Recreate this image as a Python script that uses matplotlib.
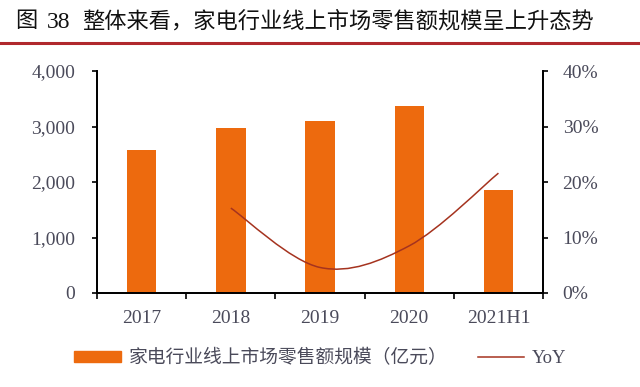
import numpy as np
import matplotlib
matplotlib.use('Agg')
from matplotlib import pyplot as plt
from matplotlib.path import Path
from matplotlib.patches import PathPatch
from matplotlib.lines import Line2D
from matplotlib.ticker import FuncFormatter, FixedLocator

plt.rcParams['font.family'] = ['Liberation Serif', 'Noto Sans CJK SC']

categories = ['2017', '2018', '2019', '2020', '2021H1']
sales      = [2580, 2970, 3100, 3370, 1850]        # 亿元
yoy_cats   = ['2018', '2019', '2020', '2021H1']
yoy        = [15.3, 4.6, 8.5, 21.6]                 # %

bar_color  = '#ED6A0E'
line_color = '#A5331F'
tick_color = '#4a4a5a'

fig = plt.figure(figsize=(6.4, 3.87), dpi=100)
ax = fig.add_axes([0.1516, 0.2429, 0.6969, 0.5736])
ax2 = ax.twinx()

x = np.arange(len(categories))
ax.bar(x, sales, width=0.33, color=bar_color, zorder=2)
ax.set_xlim(-0.5, len(categories) - 0.5)
ax.set_ylim(0, 4000)
ax.set_yticks([0, 1000, 2000, 3000, 4000])
ax.yaxis.set_major_formatter(FuncFormatter(lambda v, p: f'{int(v):,}'))

# smoothed line (excel-like bezier through the points)
xs = np.array([categories.index(c) for c in yoy_cats], dtype=float)
ys = np.array(yoy, dtype=float)
pts = np.column_stack([xs, ys])
verts = [tuple(pts[0])]
codes = [Path.MOVETO]
for i in range(len(pts) - 1):
    p0 = pts[i - 1] if i > 0 else pts[i]
    p1 = pts[i]
    p2 = pts[i + 1]
    p3 = pts[i + 2] if i + 2 < len(pts) else pts[i + 1]
    c1 = p1 + (p2 - p0) / 6.0
    c2 = p2 - (p3 - p1) / 6.0
    verts += [tuple(c1), tuple(c2), tuple(p2)]
    codes += [Path.CURVE4] * 3
ax2.add_patch(PathPatch(Path(verts, codes), facecolor='none', edgecolor=line_color, lw=1.1, zorder=3))
ax2.set_ylim(0, 40)
ax2.set_yticks([0, 10, 20, 30, 40])
ax2.yaxis.set_major_formatter(FuncFormatter(lambda v, p: f'{int(v)}%'))

ax.set_xticks(x)
ax.set_xticklabels(categories)
ax.xaxis.set_minor_locator(FixedLocator(np.arange(-0.5, len(categories), 1.0)))
ax.tick_params(axis='x', which='major', length=0, pad=12, labelsize=14, labelcolor=tick_color)
ax.tick_params(axis='x', which='minor', length=4, width=1.2, direction='out')
ax.tick_params(axis='y', length=3.6, width=1.2, labelsize=14, labelcolor=tick_color, pad=12)
ax2.tick_params(axis='y', length=3.6, width=1.2, labelsize=14, labelcolor=tick_color, pad=10.5)

for a in (ax, ax2):
    a.spines['top'].set_visible(False)
    for s in ('left', 'right', 'bottom'):
        a.spines[s].set_linewidth(1.3)
        a.spines[s].set_color('black')

# title and red rule
ty = 0.943
fig.text(15 / 640, ty, '图', fontsize=16, va='center', ha='left', color='#111111')
fig.text(47 / 640, ty, '38', fontsize=17, va='center', ha='left', color='#111111')
fig.text(82 / 640, ty, '整体来看，家电行业线上市场零售额规模呈上升态势',
         fontsize=16, va='center', ha='left', color='#111111')
fig.add_artist(Line2D([0, 1], [0.888, 0.888], color='#B0282D', lw=2.2))

handles = [plt.Rectangle((0, 0), 1, 1, color=bar_color),
           Line2D([0], [0], color=line_color, lw=1.1)]
labels = ['家电行业线上市场零售额规模（亿元）', 'YoY']
fig.legend(handles, labels, loc='center left', bbox_to_anchor=(0.09, 0.075), ncol=2,
           frameon=False, fontsize=13.5, handlelength=2.5, handleheight=0.55,
           handletextpad=0.4, columnspacing=1.6, labelcolor=tick_color)

fig.savefig('out.png', dpi=100, facecolor='white')
